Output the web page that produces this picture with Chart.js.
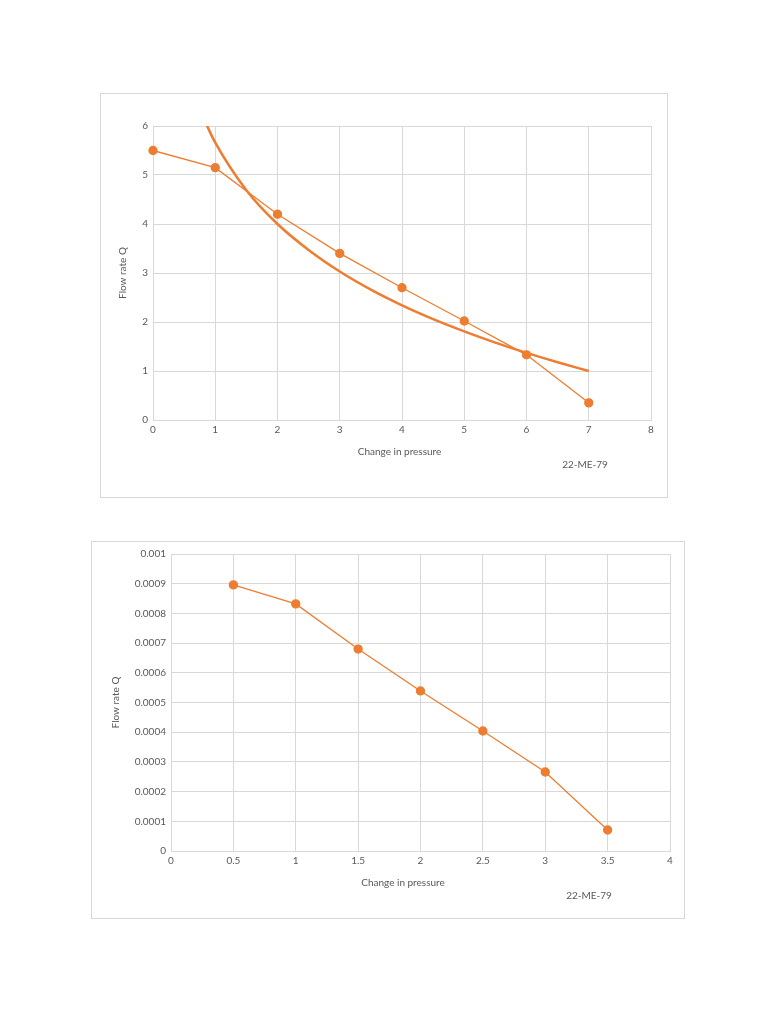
<!DOCTYPE html>
<html lang="en">
<head>
    <meta charset="UTF-8">
    <title>Flow rate vs change in pressure</title>
    <script src="https://cdn.jsdelivr.net/npm/chart.js"></script>
    <style>
        body {
            margin: 0;
            background: #fff;
            font-family: 'Lato', sans-serif;
        }
        .frame {
            position: absolute;
            border: 1px solid #d9d9d9;
            box-sizing: border-box;
        }
        .frame canvas {
            position: absolute;
            left: -1px;
            top: -1px;
        }
        .tag {
            position: absolute;
            font-size: 10px;
            color: #595959;
            transform: translate(-50%, -50%);
        }
    </style>
</head>
<body>
    <div class="frame" id="frame1" style="left:100px; top:93px; width:568px; height:405px;">
        <canvas id="chart1" width="568" height="405"></canvas>
        <div class="tag" style="left:484px; top:370px;">22-ME-79</div>
    </div>
    <div class="frame" id="frame2" style="left:91px; top:541px; width:594px; height:378px;">
        <canvas id="chart2" width="594" height="378"></canvas>
        <div class="tag" style="left:497px; top:353px;">22-ME-79</div>
    </div>

    <script>
        // chart 1 - measured points
        const dp1 = [0, 1, 2, 3, 4, 5, 6, 7];
        const q1 = [5.5, 5.15, 4.2, 3.4, 2.7, 2.02, 1.33, 0.35];
        // chart 1 - trendline
        const trendX = [0.84, 1, 1.5, 2, 2.5, 3, 3.5, 4, 4.5, 5, 5.5, 6, 6.5, 7];
        const trendY = [6.08, 5.66, 4.69, 4.0, 3.47, 3.03, 2.66, 2.34, 2.06, 1.81, 1.58, 1.37, 1.18, 1.0];
        const xTicks1 = ['0', '1', '2', '3', '4', '5', '6', '7', '8'];
        const yTicks1 = ['0', '1', '2', '3', '4', '5', '6'];

        // chart 2
        const dp2 = [0.5, 1, 1.5, 2, 2.5, 3, 3.5];
        const q2 = [0.000896, 0.000832, 0.00068, 0.000539, 0.000404, 0.000266, 0.0000707];
        const xTicks2 = ['0', '0.5', '1', '1.5', '2', '2.5', '3', '3.5', '4'];
        const yTicks2 = ['0', '0.0001', '0.0002', '0.0003', '0.0004', '0.0005', '0.0006', '0.0007', '0.0008', '0.0009', '0.001'];

        const orange = '#ED7D31';
        const grid = '#d9d9d9';
        const txt = '#595959';
        const font = { family: 'Lato', size: 10 };

        Chart.defaults.font.family = 'Lato';
        Chart.defaults.color = txt;

        function pts(xs, ys) {
            return xs.map((x, i) => ({ x: x, y: ys[i] }));
        }

        function makeChart(id, datasets, cfg) {
            return new Chart(document.getElementById(id), {
                type: 'line',
                data: { datasets: datasets },
                options: {
                    responsive: false,
                    animation: false,
                    layout: { padding: cfg.padding },
                    plugins: { legend: { display: false }, tooltip: { enabled: false } },
                    scales: {
                        x: {
                            type: 'linear',
                            min: cfg.xMin, max: cfg.xMax,
                            afterFit: s => { s.height = 42; },
                            afterBuildTicks: s => {
                                s.ticks = cfg.xTicks.map((t, i) => ({ value: cfg.xMin + i * cfg.xStep }));
                            },
                            ticks: {
                                font: font, color: txt, padding: 4, maxRotation: 0,
                                callback: (v, i) => cfg.xTicks[i]
                            },
                            grid: { color: grid, drawTicks: false },
                            border: { color: grid },
                            title: {
                                display: true, text: cfg.xTitle,
                                font: font, color: txt, padding: { top: 0, bottom: 4 }
                            }
                        },
                        y: {
                            type: 'linear',
                            min: 0, max: cfg.yMax,
                            afterFit: s => { s.width = cfg.yWidth; },
                            afterBuildTicks: s => {
                                s.ticks = cfg.yTicks.map((t, i) => ({ value: i * cfg.yStep }));
                            },
                            ticks: {
                                font: font, color: txt, padding: 5,
                                callback: (v, i) => cfg.yTicks[i]
                            },
                            grid: { color: grid, drawTicks: false },
                            border: { color: grid },
                            title: {
                                display: true, text: 'Flow rate Q',
                                font: font, color: txt, padding: { top: cfg.yTitlePad, bottom: 0 }
                            }
                        }
                    }
                }
            });
        }

        makeChart('chart1', [
            {
                data: pts(trendX, trendY),
                borderColor: orange,
                borderWidth: 2.5,
                pointRadius: 0,
                cubicInterpolationMode: 'monotone'
            },
            {
                data: pts(dp1, q1),
                borderColor: orange,
                backgroundColor: orange,
                borderWidth: 1.3,
                pointRadius: 4,
                pointStyle: 'circle',
                clip: false
            }
        ], {
            padding: { left: 0, right: 17, top: 33, bottom: 36 },
            xMin: 0, xMax: 8, xStep: 1, xTicks: xTicks1,
            xTitle: 'Change in pressure\u2002',
            yMax: 6, yStep: 1, yTicks: yTicks1,
            yWidth: 53, yTitlePad: 17
        });

        makeChart('chart2', [
            {
                data: pts(dp2, q2),
                borderColor: orange,
                backgroundColor: orange,
                borderWidth: 1.3,
                pointRadius: 4,
                pointStyle: 'circle',
                clip: false
            }
        ], {
            padding: { left: 0, right: 15, top: 13, bottom: 26 },
            xMin: 0, xMax: 4, xStep: 0.5, xTicks: xTicks2,
            xTitle: 'Change in pressure\u2002\u2002\u2002\u2002\u2002\u2002\u2002',
            yMax: 0.001, yStep: 0.0001, yTicks: yTicks2,
            yWidth: 80, yTitlePad: 19
        });
    </script>
</body>
</html>
